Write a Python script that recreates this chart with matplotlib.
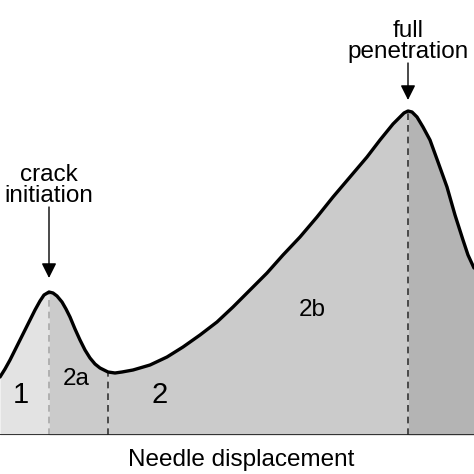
import matplotlib

matplotlib.use("Agg")
import matplotlib.pyplot as plt
import numpy as np

plt.rcParams["font.family"] = ["Liberation Sans", "DejaVu Sans"]

# needle displacement (arbitrary units) and force (arbitrary units)
displacement = [0, 5, 10, 15, 20, 25, 30, 35, 40, 44, 49, 53, 57, 62, 66,
                70, 75, 80, 85, 90, 95, 100, 108, 115, 122, 133, 150, 167,
                183, 200, 217, 233, 250, 267, 283, 300, 317, 333, 350, 367,
                380, 393, 400, 404, 408, 412, 417, 423, 430, 438, 447, 455,
                463, 468, 474]
force = [58, 66, 75, 85, 95, 105, 115, 125, 134, 140, 143, 142, 139, 133, 126,
         118, 106, 95, 85, 77, 71, 67, 63, 62, 63, 65, 70, 78,
         88, 100, 113, 128, 145, 162, 180, 198, 218, 238, 258, 278,
         295, 311, 318, 322, 324, 323, 318, 308, 295, 273, 248, 220,
         195, 180, 167]

# event positions along the displacement axis
crack_initiation = 49
end_of_2a = 108
full_penetration = 408

region_colors = ["#e3e3e3", "#cbcbcb", "#cbcbcb", "#b4b4b4"]
region_edges = [0, crack_initiation, end_of_2a, full_penetration, 474]

x = np.array(displacement, dtype=float)
y = np.array(force, dtype=float)

fig = plt.figure(figsize=(4.74, 4.74), dpi=100)
ax = fig.add_axes([0, 39 / 474, 1, 435 / 474])
ax.set_xlim(0, 474)
ax.set_ylim(0, 435)
ax.axis("off")

for (lo, hi), color in zip(zip(region_edges[:-1], region_edges[1:]), region_colors):
    mask = (x >= lo) & (x <= hi)
    ax.fill_between(x[mask], 0, y[mask], color=color, linewidth=0)

ax.plot(x, y, color="black", linewidth=2.4, solid_joinstyle="round",
        solid_capstyle="round", zorder=4)
ax.axhline(0, color="#222222", linewidth=2.0, zorder=5)

ax.plot([crack_initiation, crack_initiation], [0, np.interp(crack_initiation, x, y)],
        color="#a8a8a8", linewidth=1.2, linestyle=(0, (4, 3)), zorder=3)
ax.plot([end_of_2a, end_of_2a], [0, np.interp(end_of_2a, x, y)],
        color="#333333", linewidth=1.2, linestyle=(0, (4, 3)), zorder=3)
ax.plot([full_penetration, full_penetration], [0, np.interp(full_penetration, x, y)],
        color="#333333", linewidth=1.2, linestyle=(0, (4, 3)), zorder=3)

arrow = dict(arrowstyle="-|>,head_length=0.9,head_width=0.45", color="black",
             linewidth=1.0, shrinkA=0, shrinkB=0)
ax.annotate("", xy=(crack_initiation, 157), xytext=(crack_initiation, 228),
            arrowprops=arrow, annotation_clip=False)
ax.annotate("", xy=(full_penetration, 335), xytext=(full_penetration, 372),
            arrowprops=arrow, annotation_clip=False)

ax.text(crack_initiation, 228, "crack\ninitiation", ha="center", va="bottom",
        fontsize=17.5, linespacing=0.95)
ax.text(full_penetration, 372, "full\npenetration", ha="center", va="bottom",
        fontsize=17.5, linespacing=0.95)

ax.text(21, 40, "1", ha="center", va="center", fontsize=21)
ax.text(76, 56, "2a", ha="center", va="center", fontsize=17.5)
ax.text(160, 40, "2", ha="center", va="center", fontsize=21)
ax.text(312, 125, "2b", ha="center", va="center", fontsize=17.5)

fig.text(241 / 474, 1 - 460 / 474, "Needle displacement", ha="center", va="center",
         fontsize=17.5)

fig.savefig("out.png", dpi=100)
